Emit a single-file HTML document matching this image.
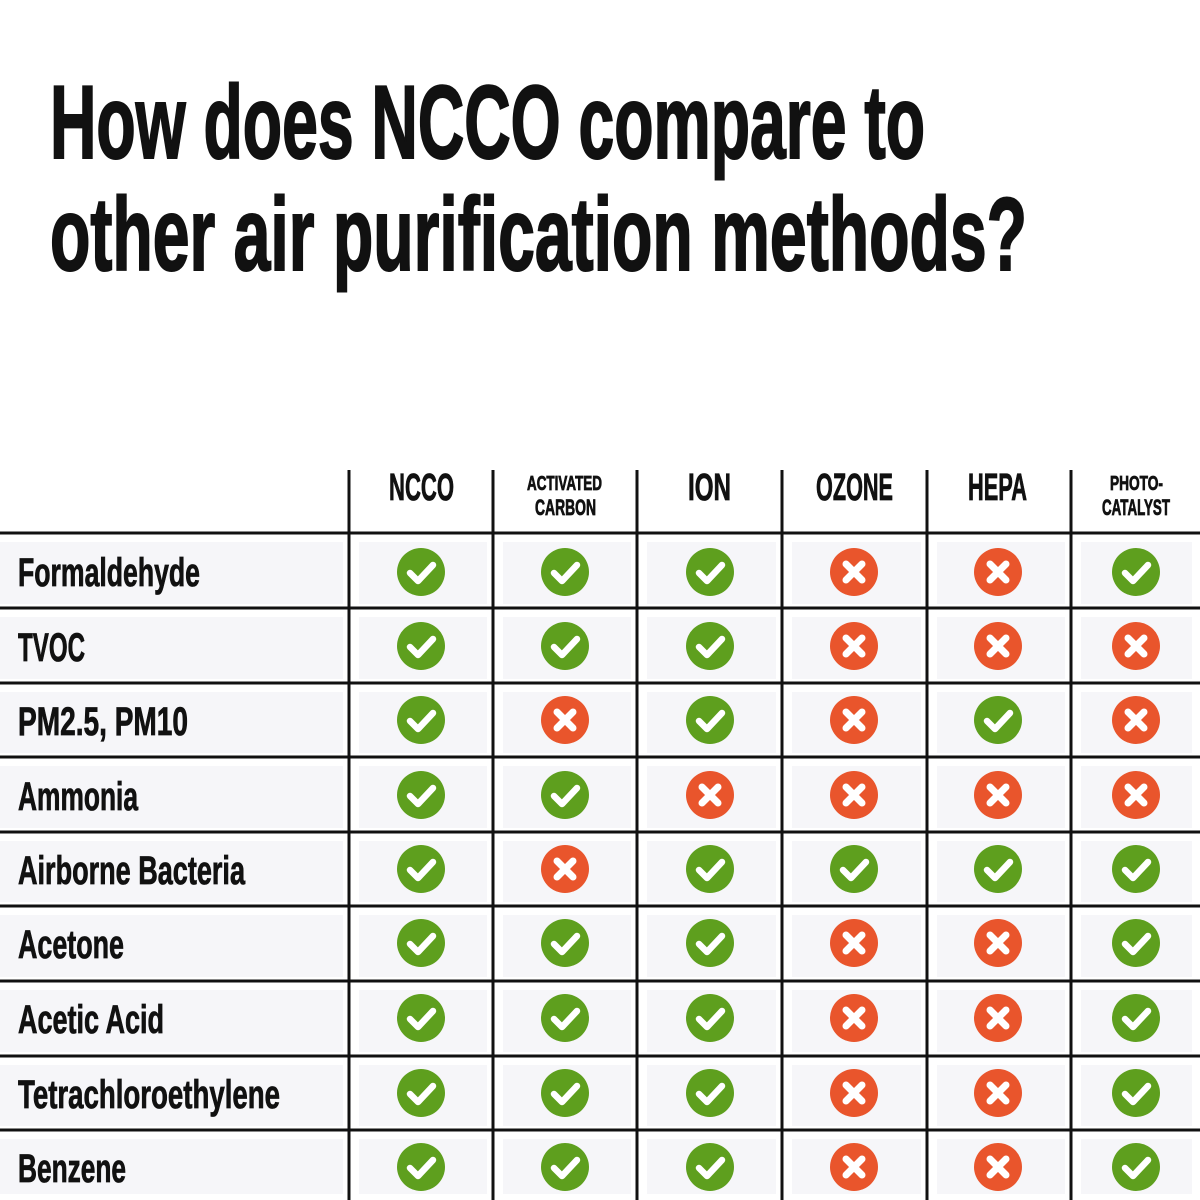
<!DOCTYPE html>
<html><head><meta charset="utf-8"><style>
html,body{margin:0;padding:0;background:#fff;width:1200px;height:1200px;overflow:hidden}
svg{display:block}
text{font-family:"Liberation Sans Narrow","Liberation Sans",sans-serif;font-weight:bold;fill:#111;stroke:#111;stroke-width:0.8}
text.t{stroke-width:2}
</style></head><body>
<svg width="1200" height="1200" viewBox="0 0 1200 1200" xmlns="http://www.w3.org/2000/svg">
<defs>
<g id="ok"><circle r="24" fill="#5e9f1e"/><polyline points="-11,1 -3,9 12,-7" fill="none" stroke="#fff" stroke-width="6.5" stroke-linecap="round" stroke-linejoin="round"/></g>
<g id="no"><circle r="24" fill="#e9552c"/><path d="M-8,-8 L8,8 M8,-8 L-8,8" stroke="#fff" stroke-width="7" stroke-linecap="round"/></g>
</defs>
<rect width="1200" height="1200" fill="#fff"/>
<text class="t" x="50" y="158" font-size="104" textLength="875" lengthAdjust="spacingAndGlyphs">How does NCCO compare to</text>
<text class="t" x="50" y="270" font-size="104" textLength="977" lengthAdjust="spacingAndGlyphs">other air purification methods?</text>

<g id="cells" fill="#f6f6f9">
</g>
<script>
(function(){
var svgns="http://www.w3.org/2000/svg";
var g=document.getElementById("cells");
var xs=[0,351,495,639,784,929,1073,1200];
var ys=[535,610,685,759,834,908,983,1058,1132,1200];
for(var r=0;r<9;r++)for(var c=0;c<7;c++){
var e=document.createElementNS(svgns,"rect");
e.setAttribute("x",xs[c]+(c?8:0));e.setAttribute("y",ys[r]+7);
e.setAttribute("width",xs[c+1]-xs[c]-(c?16:8));e.setAttribute("height",ys[r+1]-ys[r]-13);
g.appendChild(e);}
})();
</script>

<g stroke="#111" stroke-width="3">
<line x1="0" y1="533" x2="1200" y2="533"/>
<line x1="0" y1="608" x2="1200" y2="608"/>
<line x1="0" y1="683" x2="1200" y2="683"/>
<line x1="0" y1="757" x2="1200" y2="757"/>
<line x1="0" y1="832" x2="1200" y2="832"/>
<line x1="0" y1="906" x2="1200" y2="906"/>
<line x1="0" y1="981" x2="1200" y2="981"/>
<line x1="0" y1="1056" x2="1200" y2="1056"/>
<line x1="0" y1="1130" x2="1200" y2="1130"/>
<line x1="349" y1="470" x2="349" y2="1200"/>
<line x1="493" y1="470" x2="493" y2="1200"/>
<line x1="637" y1="470" x2="637" y2="1200"/>
<line x1="782" y1="470" x2="782" y2="1200"/>
<line x1="927" y1="470" x2="927" y2="1200"/>
<line x1="1071" y1="470" x2="1071" y2="1200"/>
</g>

<text x="389" y="500" font-size="38" textLength="65" lengthAdjust="spacingAndGlyphs">NCCO</text>
<text x="527" y="490" font-size="20" textLength="75" lengthAdjust="spacingAndGlyphs">ACTIVATED</text>
<text x="535" y="515" font-size="22" textLength="61" lengthAdjust="spacingAndGlyphs">CARBON</text>
<text x="688" y="500" font-size="38" textLength="43" lengthAdjust="spacingAndGlyphs">ION</text>
<text x="816" y="500" font-size="38" textLength="77" lengthAdjust="spacingAndGlyphs">OZONE</text>
<text x="968" y="500" font-size="38" textLength="59" lengthAdjust="spacingAndGlyphs">HEPA</text>
<text x="1110" y="490" font-size="20" textLength="53" lengthAdjust="spacingAndGlyphs">PHOTO-</text>
<text x="1102" y="515" font-size="22" textLength="68" lengthAdjust="spacingAndGlyphs">CATALYST</text>

<g font-size="40">
<text x="18" y="586" font-size="40" textLength="182" lengthAdjust="spacingAndGlyphs">Formaldehyde</text>
<text x="18" y="661" font-size="40" textLength="67" lengthAdjust="spacingAndGlyphs">TVOC</text>
<text x="18" y="735" font-size="40" textLength="170" lengthAdjust="spacingAndGlyphs">PM2.5, PM10</text>
<text x="18" y="810" font-size="40" textLength="120" lengthAdjust="spacingAndGlyphs">Ammonia</text>
<text x="18" y="884" font-size="40" textLength="227" lengthAdjust="spacingAndGlyphs">Airborne Bacteria</text>
<text x="18" y="958" font-size="40" textLength="106" lengthAdjust="spacingAndGlyphs">Acetone</text>
<text x="18" y="1033" font-size="40" textLength="146" lengthAdjust="spacingAndGlyphs">Acetic Acid</text>
<text x="18" y="1108" font-size="40" textLength="262" lengthAdjust="spacingAndGlyphs">Tetrachloroethylene</text>
<text x="18" y="1182" font-size="40" textLength="108" lengthAdjust="spacingAndGlyphs">Benzene</text>
</g>

<g id="icons"></g>
<script>
(function(){
var svgns="http://www.w3.org/2000/svg";
var g=document.getElementById("icons");
var cx=[421,565,710,854,998,1136];
var cy=[572,646,720,795,869,943,1018,1093,1167];
var d=["111001","111000","101010","110000","101111","111001","111001","111001","111001"];
for(var r=0;r<9;r++)for(var c=0;c<6;c++){
var u=document.createElementNS(svgns,"use");
u.setAttribute("href",d[r][c]=="1"?"#ok":"#no");
u.setAttribute("transform","translate("+cx[c]+","+cy[r]+")");
g.appendChild(u);}
})();
</script>
</svg>
</body></html>
